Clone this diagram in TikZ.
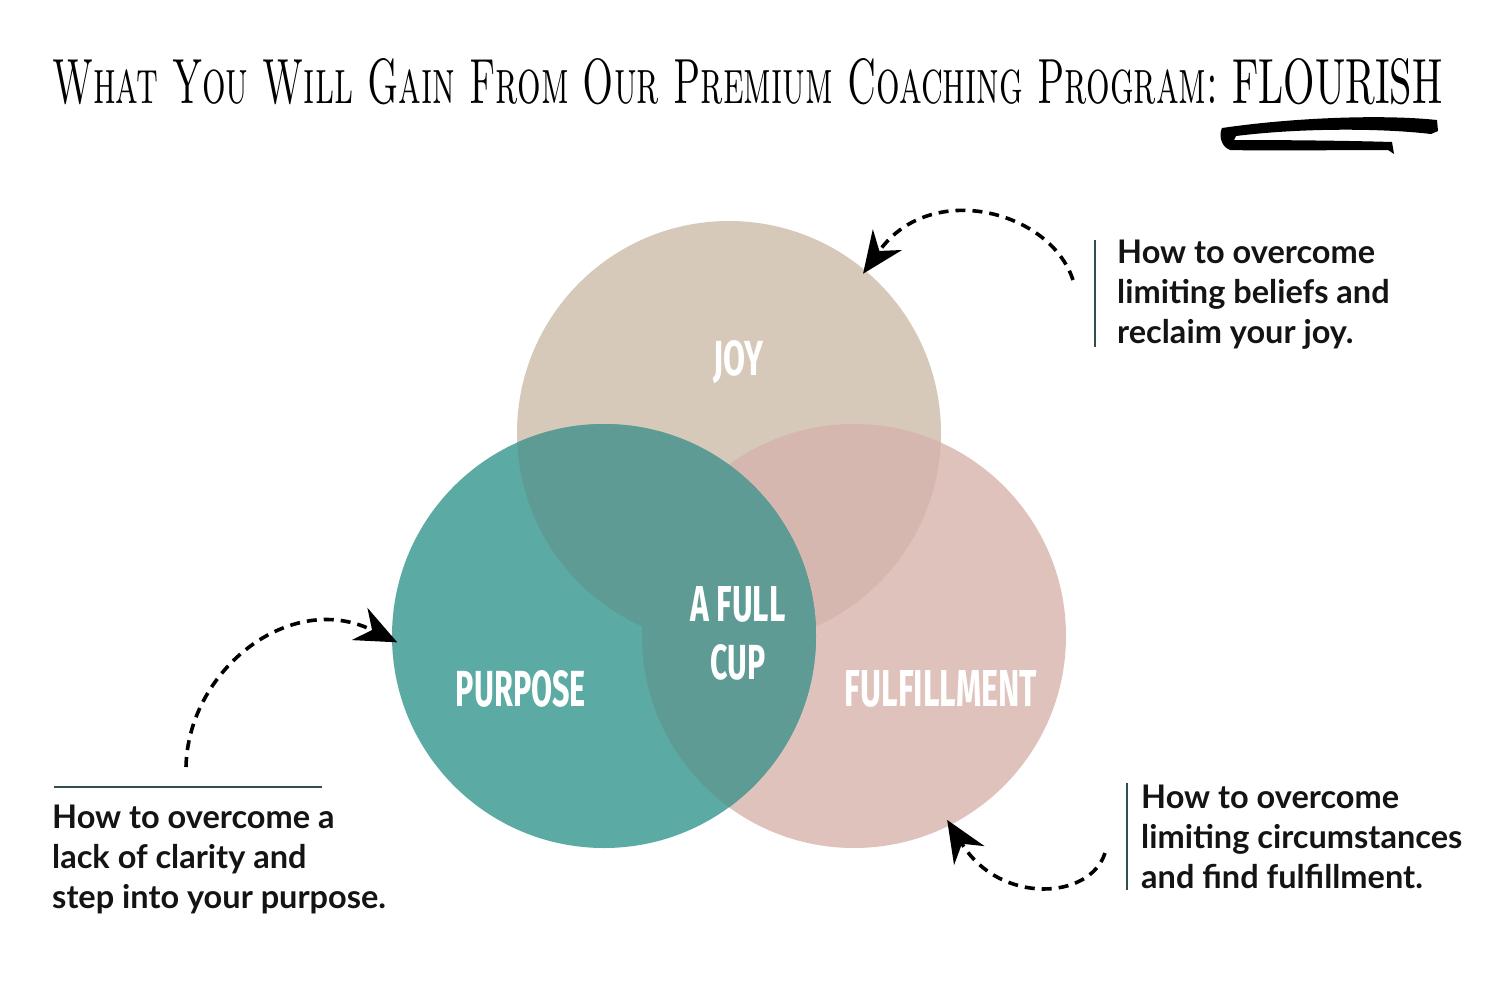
\documentclass[tikz,border=0pt]{standalone}
\usepackage{fontspec}
\usepackage{graphicx}
\newfontfamily\bodyfont{Lato}
\newfontfamily\capsfont{Fira Sans}
\usetikzlibrary{arrows.meta}
\definecolor{joyc}{HTML}{D6C9B9}
\definecolor{purc}{HTML}{5CAAA4}
\definecolor{fulc}{HTML}{DFC2BC}
\definecolor{jfc}{HTML}{D5B7AF}
\definecolor{pxc}{HTML}{5F9B95}
\definecolor{rulec}{HTML}{2F4F4F}
\tikzset{
  ring/.style={circle, minimum size=424pt, inner sep=0pt},
  clabel/.style={inner sep=0pt, text=white},
  bodyline/.style={anchor=base west, inner sep=0pt, font=\bodyfont\bfseries\fontsize{32.5}{40}\selectfont, text=black!92},
  dasharrow/.style={line width=3.6pt, dash pattern=on 10pt off 7pt, -{Stealth[length=42pt,width=36pt,inset=14pt,line width=0pt]}},
  sideline/.style={rulec, line width=1.6pt}
}
\begin{document}
\begin{tikzpicture}[x=1pt,y=-1pt]
\useasboundingbox (0,0) rectangle (1500,994);
\fill[white] (0,0) rectangle (1500,994);

% circles (named)
\node[ring] (joy) at (729,433) {};
\node[ring] (pur) at (604,636) {};
\node[ring] (ful) at (854,636) {};

\fill[joyc] (joy.center) circle[radius=212pt];
\fill[fulc] (ful.center) circle[radius=212pt];
\begin{scope}
  \clip (joy.center) circle[radius=212pt];
  \fill[jfc] (ful.center) circle[radius=212pt];
\end{scope}
\fill[purc] (pur.center) circle[radius=212pt];
\begin{scope}
  \clip (pur.center) circle[radius=212pt];
  \fill[pxc] (joy.center) circle[radius=212pt];
  \fill[pxc] (ful.center) circle[radius=212pt];
\end{scope}

% circle labels
\node[clabel] (tjoy) at (738,362) {\resizebox{50pt}{35pt}{\capsfont\bfseries JOY}};
\node[clabel] (tfull) at (738,604) {\resizebox{95pt}{35pt}{\capsfont\bfseries A FULL}};
\node[clabel] (tcup) at (738,662) {\resizebox{55pt}{35pt}{\capsfont\bfseries CUP}};
\node[clabel] (tpur) at (521,689) {\resizebox{130pt}{36pt}{\capsfont\bfseries PURPOSE}};
\node[clabel] (tful) at (941,689) {\resizebox{192pt}{36pt}{\capsfont\bfseries FULFILLMENT}};

% title
\node[anchor=south west, inner sep=0pt] (title) at (52,105) {\resizebox{1166pt}{45pt}{\scshape What You Will Gain From Our Premium Coaching Program:}};
\node[anchor=south west, inner sep=0pt] (flourish) at (1232,105) {\resizebox{210pt}{45pt}{FLOURISH}};
\fill[black] (1222,128) .. controls (1290,118) and (1380,114) .. (1437,120)
  -- (1438,131) -- (1431,134)
  .. controls (1380,128) and (1300,128) .. (1236,136)
  -- (1234,140)
  .. controls (1300,140) and (1360,141) .. (1392,142)
  -- (1394,154) -- (1388,150)
  .. controls (1330,150) and (1270,151) .. (1230,150)
  .. controls (1220,146) and (1219,134) .. (1222,128) -- cycle;

% top-right text
\coordinate (r1top) at (1095,240);
\coordinate (r1bot) at (1095,347);
\draw[sideline] (r1top) -- (r1bot);
\node[bodyline] (a1) at (1117,263) {How to overcome};
\node[bodyline] (a2) at (1117,303) {limiting beliefs and};
\node[bodyline] (a3) at (1117,343) {reclaim your joy.};

% bottom-right text
\coordinate (r2top) at (1127,783);
\coordinate (r2bot) at (1127,890);
\draw[sideline] (r2top) -- (r2bot);
\node[bodyline] (b1) at (1141,808) {How to overcome};
\node[bodyline] (b2) at (1141,848) {limiting circumstances};
\node[bodyline] (b3) at (1141,888) {and find fulfillment.};

% bottom-left text
\coordinate (l1) at (54,787);
\coordinate (l2) at (322,787);
\draw[sideline] (l1) -- (l2);
\node[bodyline] (c1) at (52,828) {How to overcome a};
\node[bodyline] (c2) at (52,868) {lack of clarity and};
\node[bodyline] (c3) at (52,908) {step into your purpose.};

% dashed arrows
\coordinate (s1) at (1073,280);
\coordinate (s2) at (186,767);
\coordinate (s3) at (1105,853);
\draw[dasharrow, shorten >=-4pt] (s1) .. controls (1050,210) and (930,180) .. (joy.50);
\draw[dasharrow, shorten >=-6pt] (s2) .. controls (188,670) and (290,590) .. (pur.181);
\draw[dasharrow, shorten >=-6pt] (s3) .. controls (1090,900) and (1000,905) .. (ful.-63);
\end{tikzpicture}
\end{document}
